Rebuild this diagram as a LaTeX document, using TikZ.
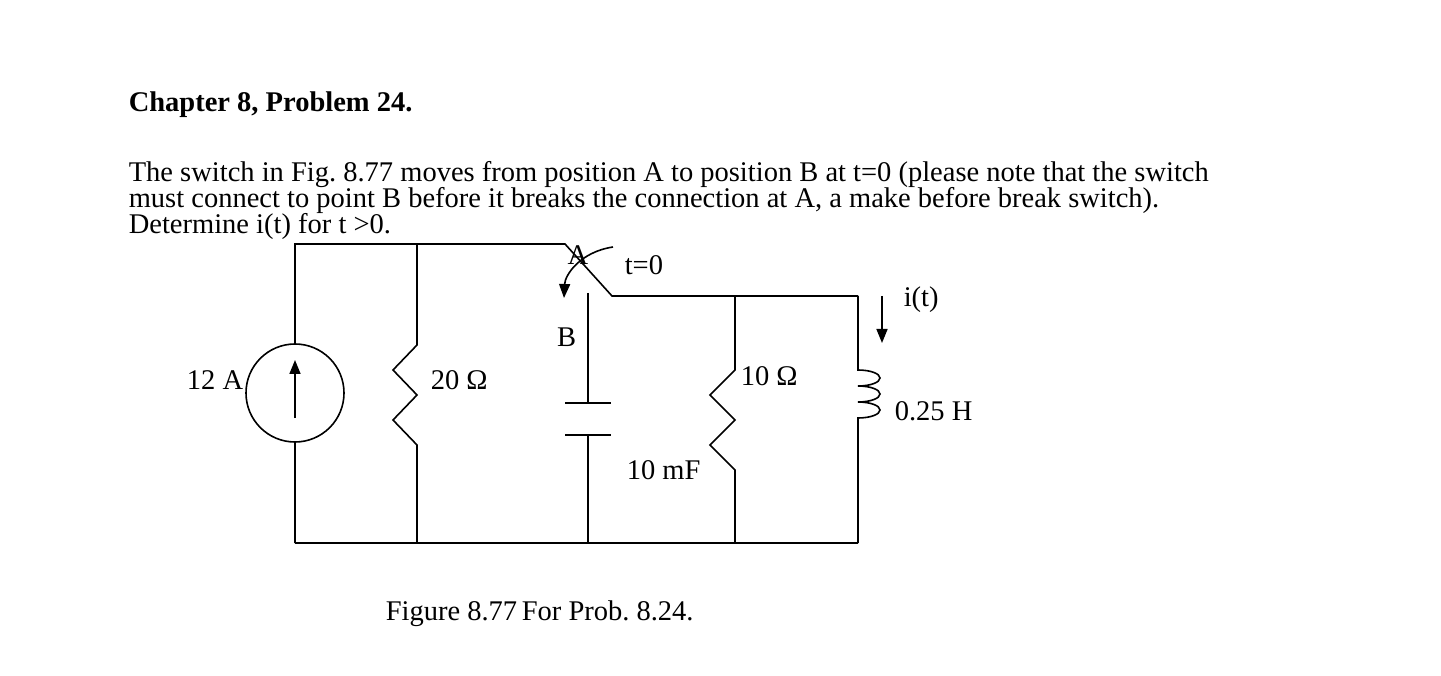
\documentclass[tikz,border=0pt]{standalone}
\usepackage{fontspec}
\setmainfont{Liberation Serif}
\usetikzlibrary{arrows.meta}
\begin{document}
\begin{tikzpicture}[x=1pt,y=-1pt,line width=1.6pt,
  lbl/.style={inner sep=0pt,font=\fontsize{28.5}{30}\selectfont},
  tip/.style={-{Triangle[length=14pt,width=11pt]}}]
\useasboundingbox (0,0) rectangle (1441,676);
\node[lbl,anchor=base west] (h) at (128,112) {\bfseries Chapter 8, Problem 24.};
\node[lbl,anchor=base west] (p1) at (128,182) {The switch in Fig.\ 8.77 moves from position A to position B at t=0 (please note that the switch};
\node[lbl,anchor=base west] (p2) at (128,208) {must connect to point B before it breaks the connection at A, a make before break switch).};
\node[lbl,anchor=base west] (p3) at (128,234) {Determine i(t) for t >0.};
% coordinates
\coordinate (tl) at (295,244);
\coordinate (t2) at (417,244);
\coordinate (sa) at (565,244);
\coordinate (sb) at (612,296);
\coordinate (t4) at (735,296);
\coordinate (tr) at (858,296);
\coordinate (bl) at (295,543);
\coordinate (b2) at (417,543);
\coordinate (b3) at (588,543);
\coordinate (b4) at (735,543);
\coordinate (br) at (858,543);
\coordinate (cb) at (588,293);
% wires
\draw (bl) -- (tl) -- (t2) -- (sa) -- (sb) -- (t4) -- (tr);
\draw (bl) -- (br);
% current source
\draw[fill=white] (295,393) circle (49);
\node (src) at (295,393) {};
\draw[tip] (295,418) -- (295,360);
\node[lbl,anchor=east] (l12) at (244,380) {12 A};
% 20 ohm
\draw (t2) -- (417,345) -- (393,370) -- (417,395) -- (393,420) -- (417,445) -- (b2);
\node[lbl,anchor=west] (l20) at (430,380) {20 Ω};
% capacitor
\draw (cb) -- (588,403);
\draw (565,403) -- (611,403);
\draw (565,435) -- (611,435);
\draw (588,435) -- (b3);
\node[lbl,anchor=east] (lB) at (577,337) {B};
\node[lbl,anchor=west] (lC) at (626,470) {10 mF};
% 10 ohm
\draw (t4) -- (735,370) -- (710,395) -- (735,420) -- (710,445) -- (735,470) -- (b4);
\node[lbl,anchor=west] (l10) at (740,376) {10 Ω};
% inductor
\draw (tr) -- (858,370)
  arc[start angle=-90,end angle=90,x radius=22,y radius=8]
  arc[start angle=-90,end angle=90,x radius=22,y radius=8]
  arc[start angle=-90,end angle=90,x radius=22,y radius=8] -- (br);
\node[lbl,anchor=west] (lL) at (894,411) {0.25 H};
% i(t)
\draw[tip] (882,296) -- (882,343);
\node[lbl,anchor=west] (li) at (903,300) {i(t)};
% switch
\node[lbl,anchor=base] (lA) at (578,265) {A};
\node[lbl,anchor=west] (lt) at (624,265) {t=0};
\draw[tip] (613,247) .. controls (580,252) and (565,275) .. (564,298);
% caption
\node[lbl,anchor=base west] (cap) at (385,620) {Figure 8.77};
\node[lbl,anchor=base west] (cap2) at (521,620) {For Prob.\ 8.24.};
\end{tikzpicture}
\end{document}
